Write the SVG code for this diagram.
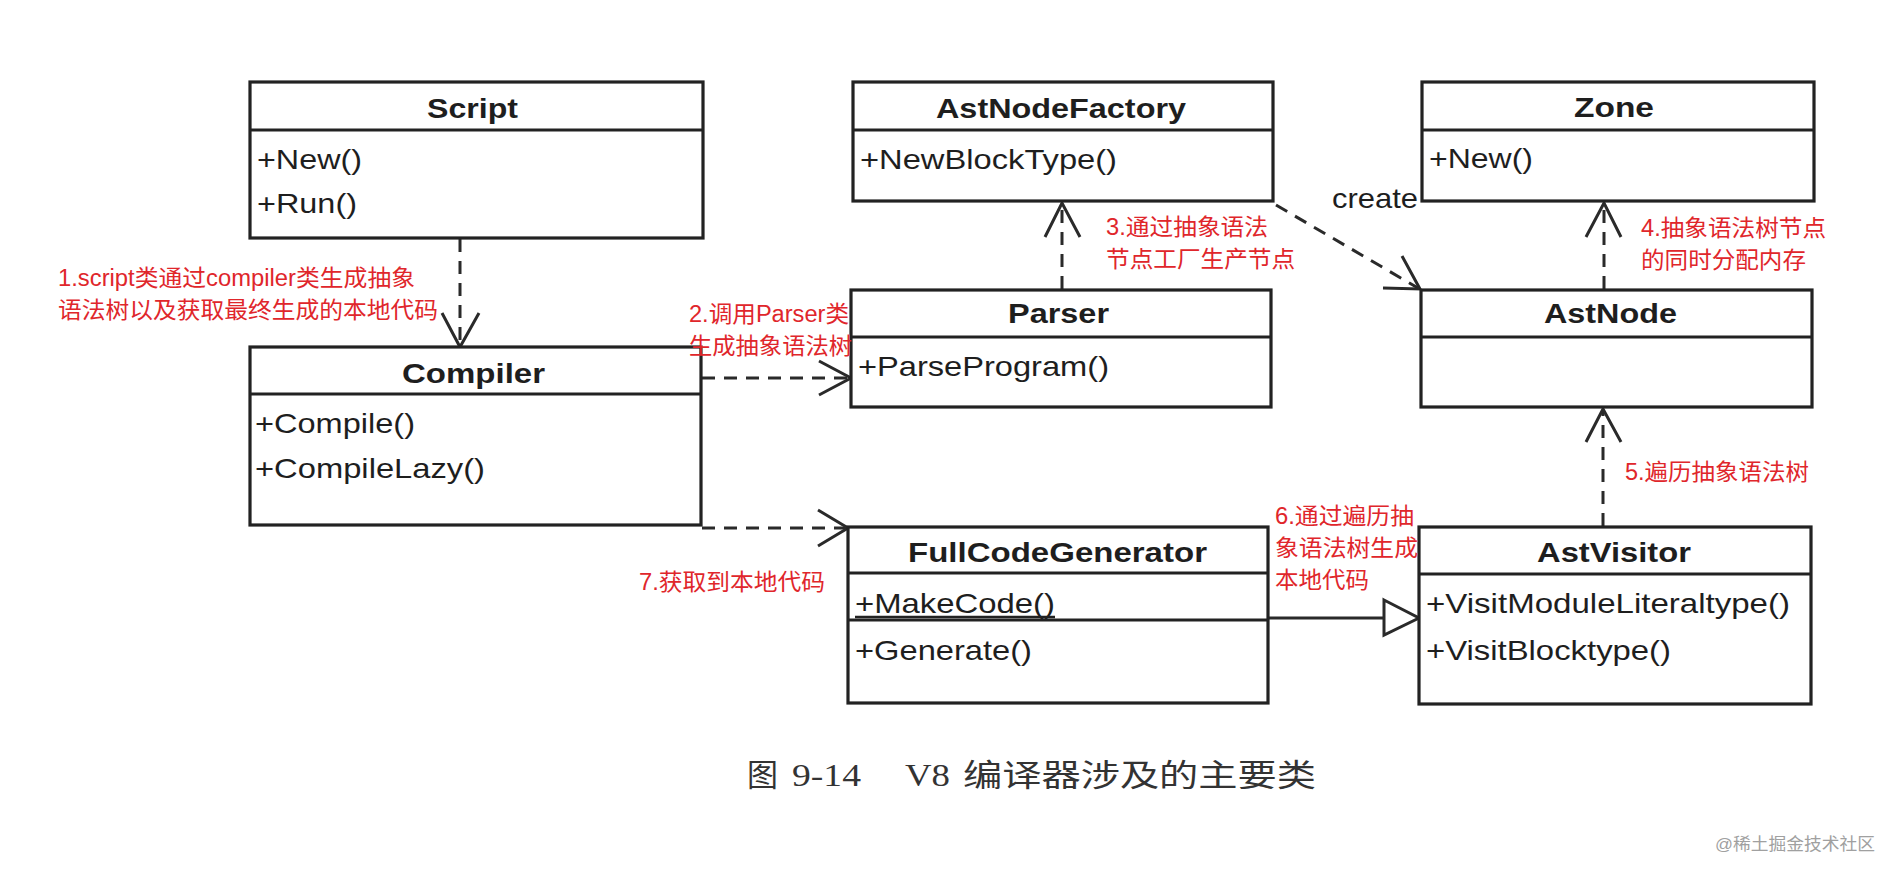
<svg xmlns="http://www.w3.org/2000/svg" width="1900" height="878" viewBox="0 0 1900 878">
<style>
.box{fill:#fff;stroke:#222;stroke-width:3.2}
.dv{stroke:#222;stroke-width:3.2}
.t{font-family:"Liberation Sans",Arial,sans-serif;font-weight:bold;font-size:28px;fill:#1e1e1e}
.m{font-family:"Liberation Sans",Arial,sans-serif;font-size:28px;fill:#1e1e1e}
.n{font-family:"Liberation Sans","Noto Sans CJK SC",sans-serif;font-size:23px;fill:#e0262b}
.dash{fill:none;stroke:#2a2a2a;stroke-width:3;stroke-dasharray:13 9}
.hd{fill:none;stroke:#2a2a2a;stroke-width:3;stroke-linejoin:miter}
.cap{font-family:"Liberation Serif","Noto Sans CJK SC",serif;font-size:31px;fill:#333}
</style>
<rect width="1900" height="878" fill="#fff"/>

<g id="connectors">
  <!-- Script -> Compiler -->
  <line class="dash" x1="460" y1="239" x2="460" y2="345"/>
  <polyline class="hd" points="442,313 460,347 479,313"/>
  <!-- Compiler -> Parser -->
  <line class="dash" x1="702" y1="378" x2="849" y2="378"/>
  <polyline class="hd" points="819,361 851,378 819,395"/>
  <!-- Compiler -> FullCodeGenerator -->
  <line class="dash" x1="702" y1="528" x2="846" y2="528"/>
  <polyline class="hd" points="818,510 848,528 818,546"/>
  <!-- Parser -> AstNodeFactory -->
  <line class="dash" x1="1062" y1="289" x2="1062" y2="205"/>
  <polyline class="hd" points="1045,237 1062,203 1080,237"/>
  <!-- AstNodeFactory -> AstNode (create) -->
  <line class="dash" x1="1276" y1="205" x2="1418" y2="288"/>
  <polyline class="hd" points="1402,256 1420,289 1383,288"/>
  <!-- AstNode -> Zone -->
  <line class="dash" x1="1604" y1="289" x2="1604" y2="205"/>
  <polyline class="hd" points="1586,237 1604,203 1621,237"/>
  <!-- AstVisitor -> AstNode -->
  <line class="dash" x1="1603" y1="526" x2="1603" y2="411"/>
  <polyline class="hd" points="1586,442 1603,409 1621,442"/>
  <!-- FullCodeGenerator -> AstVisitor (generalization) -->
  <line x1="1269" y1="618" x2="1384" y2="618" stroke="#2a2a2a" stroke-width="3"/>
  <polygon points="1384,600 1419,618 1384,635" fill="#fff" stroke="#2a2a2a" stroke-width="3"/>
  <text x="1332" y="208" class="m" font-size="29" textLength="86" lengthAdjust="spacingAndGlyphs">create</text>
</g>

<g id="Script">
  <rect class="box" x="250" y="82" width="453" height="156"/>
  <line class="dv" x1="250" y1="130" x2="703" y2="130"/>
  <text class="t" x="427" y="118" textLength="91" lengthAdjust="spacingAndGlyphs">Script</text>
  <text class="m" x="257" y="169" textLength="105" lengthAdjust="spacingAndGlyphs">+New()</text>
  <text class="m" x="257" y="213" textLength="100" lengthAdjust="spacingAndGlyphs">+Run()</text>
</g>

<g id="AstNodeFactory">
  <rect class="box" x="853" y="82" width="420" height="119"/>
  <line class="dv" x1="853" y1="130" x2="1273" y2="130"/>
  <text class="t" x="936" y="118" textLength="250" lengthAdjust="spacingAndGlyphs">AstNodeFactory</text>
  <text class="m" x="860" y="169" textLength="257" lengthAdjust="spacingAndGlyphs">+NewBlockType()</text>
</g>

<g id="Zone">
  <rect class="box" x="1422" y="82" width="392" height="119"/>
  <line class="dv" x1="1422" y1="130" x2="1814" y2="130"/>
  <text class="t" x="1574" y="117" textLength="80" lengthAdjust="spacingAndGlyphs">Zone</text>
  <text class="m" x="1429" y="168" textLength="104" lengthAdjust="spacingAndGlyphs">+New()</text>
</g>

<g id="Compiler">
  <rect class="box" x="250" y="347" width="451" height="178"/>
  <line class="dv" x1="250" y1="394" x2="701" y2="394"/>
  <text class="t" x="402" y="383" textLength="143" lengthAdjust="spacingAndGlyphs">Compiler</text>
  <text class="m" x="255" y="433" textLength="160" lengthAdjust="spacingAndGlyphs">+Compile()</text>
  <text class="m" x="255" y="478" textLength="230" lengthAdjust="spacingAndGlyphs">+CompileLazy()</text>
</g>

<g id="Parser">
  <rect class="box" x="851" y="290" width="420" height="117"/>
  <line class="dv" x1="851" y1="337" x2="1271" y2="337"/>
  <text class="t" x="1008" y="323" textLength="101" lengthAdjust="spacingAndGlyphs">Parser</text>
  <text class="m" x="858" y="376" textLength="251" lengthAdjust="spacingAndGlyphs">+ParseProgram()</text>
</g>

<g id="AstNode">
  <rect class="box" x="1421" y="290" width="391" height="117"/>
  <line class="dv" x1="1421" y1="337" x2="1812" y2="337"/>
  <text class="t" x="1544" y="323" textLength="133" lengthAdjust="spacingAndGlyphs">AstNode</text>
</g>

<g id="FullCodeGenerator">
  <rect class="box" x="848" y="527" width="420" height="176"/>
  <line class="dv" x1="848" y1="573" x2="1268" y2="573"/>
  <line class="dv" x1="848" y1="620" x2="1268" y2="620"/>
  <text class="t" x="908" y="562" textLength="299" lengthAdjust="spacingAndGlyphs">FullCodeGenerator</text>
  <text class="m" x="855" y="613" textLength="200" lengthAdjust="spacingAndGlyphs">+MakeCode()</text>
  <line x1="855" y1="617" x2="1055" y2="617" stroke="#222" stroke-width="2.5"/>
  <text class="m" x="855" y="660" textLength="177" lengthAdjust="spacingAndGlyphs">+Generate()</text>
</g>

<g id="AstVisitor">
  <rect class="box" x="1419" y="527" width="392" height="177"/>
  <line class="dv" x1="1419" y1="574" x2="1811" y2="574"/>
  <text class="t" x="1537" y="562" textLength="154" lengthAdjust="spacingAndGlyphs">AstVisitor</text>
  <text class="m" x="1426" y="613" textLength="364" lengthAdjust="spacingAndGlyphs">+VisitModuleLiteraltype()</text>
  <text class="m" x="1426" y="660" textLength="245" lengthAdjust="spacingAndGlyphs">+VisitBlocktype()</text>
</g>

<g id="notes">
  <text class="n" x="58" y="286" textLength="357" lengthAdjust="spacingAndGlyphs">1.script类通过compiler类生成抽象</text>
  <text class="n" x="58" y="318" textLength="380" lengthAdjust="spacingAndGlyphs">语法树以及获取最终生成的本地代码</text>
  <text class="n" x="689" y="322" textLength="160" lengthAdjust="spacingAndGlyphs">2.调用Parser类</text>
  <text class="n" x="689" y="354" textLength="163" lengthAdjust="spacingAndGlyphs">生成抽象语法树</text>
  <text class="n" x="1106" y="235" textLength="162" lengthAdjust="spacingAndGlyphs">3.通过抽象语法</text>
  <text class="n" x="1106" y="267" textLength="189" lengthAdjust="spacingAndGlyphs">节点工厂生产节点</text>
  <text class="n" x="1641" y="236" textLength="185" lengthAdjust="spacingAndGlyphs">4.抽象语法树节点</text>
  <text class="n" x="1641" y="268" textLength="165" lengthAdjust="spacingAndGlyphs">的同时分配内存</text>
  <text class="n" x="1625" y="480" textLength="184" lengthAdjust="spacingAndGlyphs">5.遍历抽象语法树</text>
  <text class="n" x="1275" y="524" textLength="139" lengthAdjust="spacingAndGlyphs">6.通过遍历抽</text>
  <text class="n" x="1275" y="556" textLength="143" lengthAdjust="spacingAndGlyphs">象语法树生成</text>
  <text class="n" x="1275" y="588" textLength="94" lengthAdjust="spacingAndGlyphs">本地代码</text>
  <text class="n" x="639" y="590" textLength="186" lengthAdjust="spacingAndGlyphs">7.获取到本地代码</text>
</g>

<g id="caption">
  <text class="cap" x="747" y="786" textLength="31" lengthAdjust="spacingAndGlyphs">图</text>
  <text class="cap" x="792" y="786" textLength="69" lengthAdjust="spacingAndGlyphs">9-14</text>
  <text class="cap" x="905" y="786" textLength="45" lengthAdjust="spacingAndGlyphs">V8</text>
  <text class="cap" x="963" y="786" textLength="353" lengthAdjust="spacingAndGlyphs">编译器涉及的主要类</text>
</g>

<text x="1715" y="850" font-family="'Liberation Sans','Noto Sans CJK SC',sans-serif" font-size="17" fill="#a0a0a0" textLength="160" lengthAdjust="spacingAndGlyphs">@稀土掘金技术社区</text>
</svg>
